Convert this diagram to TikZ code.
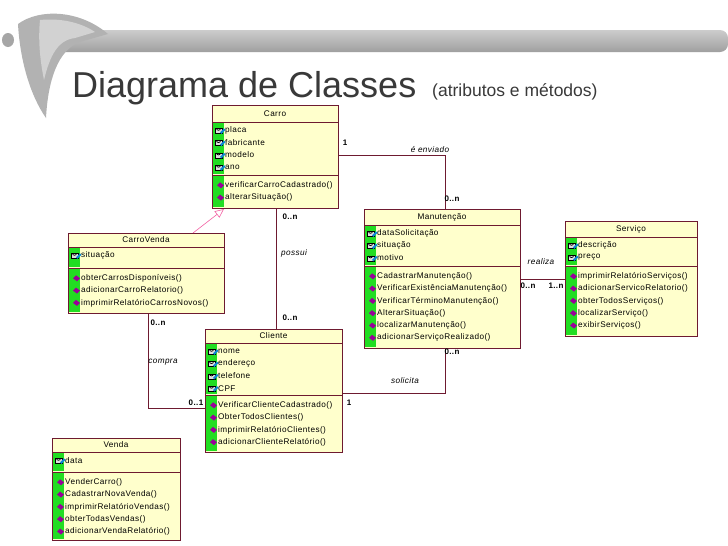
\documentclass[tikz,border=0pt]{standalone}
\usepackage{fontspec}
\setmainfont{Liberation Sans}
\newfontfamily\uml[LetterSpace=5]{Liberation Sans}
\usetikzlibrary{arrows.meta}
\definecolor{boxfill}{HTML}{FFFFCC}
\definecolor{boxline}{HTML}{6E1A30}
\definecolor{strip}{HTML}{22DD22}
\tikzset{
  clsbox/.style={draw=boxline,fill=boxfill,line width=0.9pt,anchor=north west,inner sep=0pt},
  item/.style={anchor=west,inner sep=0pt,font=\uml\fontsize{8.2}{9}\selectfont},
  ttl/.style={inner sep=0pt,font=\uml\fontsize{8.2}{9}\selectfont},
  conn/.style={draw=boxline,line width=0.8pt},
  lbl/.style={inner sep=0pt,font=\uml\fontsize{8}{9}\selectfont\bfseries},
  rl/.style={inner sep=0pt,font=\uml\fontsize{8.2}{9}\selectfont\itshape},
}
% name, x, y, w, htitle, hattr, hmeth, title, attrs ; then methods consumed by \umlmeth
\newcommand\umlcls[9]{%
  \node[clsbox,minimum width=#4pt,minimum height=#5pt+#6pt+#7pt] (#1) at (#2,#3) {};
  \draw[boxline,line width=0.9pt] (#2,#3+#5) -- ++(#4,0) (#2,#3+#5+#6) -- ++(#4,0);
  \fill[strip] (#2+1,#3+#5+1) rectangle ++(11,#6-2);
  \fill[strip] (#2+1,#3+#5+#6+1) rectangle ++(11,#7-2);
  \node[ttl] (#1-t) at (#2+#4/2,#3+#5/2) {#8};
  \foreach \a [count=\i] in {#9} {
    \node[item] at (#2+13,#3+#5+\i*12.3-4) {\a};
    \filldraw[fill=gray!25,draw=black,line width=0.4pt] (#2+3,#3+#5+\i*12.3-6) rectangle ++(7,5);
    \draw[black,line width=0.7pt] (#2+4.5,#3+#5+\i*12.3-6) arc (180:0:2);
    \fill[cyan!70!blue] (#2+8,#3+#5+\i*12.3-2) -- ++(4,-4) -- ++(1.5,1.5) -- ++(-4,4) -- cycle;
  }
  \umlmeth{#1}{#2}{#3+#5+#6}%
}
\newcommand\umlmeth[4]{%
  \foreach \m [count=\i] in {#4} {
    \node[item] at (#2+13,#3+\i*12.3-2) {\m};
    \fill[violet!80!magenta] (#2+5,#3+\i*12.3-2) -- ++(3,-3) -- ++(4,3) -- ++(-3,3) -- cycle;
  }
}
\begin{document}
\begin{tikzpicture}[x=1pt,y=-1pt]
\useasboundingbox (0,0) rectangle (728,546);
\fill[white] (0,0) rectangle (728,546);
% decoration
\shade[top color=gray!40,bottom color=gray!75,rounded corners=8pt] (40,30) rectangle (728,52);
\fill[gray!60] (18,24) .. controls (40,8) and (80,10) .. (108,34) -- (80,42) .. controls (58,50) and (48,80) .. (46,118) .. controls (30,95) and (20,60) .. (18,24) -- cycle;
\fill[gray!35] (40,20) .. controls (60,18) and (80,22) .. (95,32) -- (75,38) .. controls (58,40) and (50,55) .. (44,80) .. controls (40,60) and (38,40) .. (40,20) -- cycle;
\fill[gray!70] (8,40) ellipse (6 and 7);
\node[anchor=base west,inner sep=0pt,text=gray!45!black,font=\fontsize{36}{38}\selectfont] (title) at (72,97) {Diagrama de Classes};
\node[anchor=base west,inner sep=0pt,text=gray!45!black,font=\fontsize{17.5}{20}\selectfont] (sub) at (432,96) {(atributos e métodos)};
% classes
\umlcls{carro}{212}{105}{126}{17}{53}{33}{Carro}{placa,fabricante,modelo,ano}{verificarCarroCadastrado(),alterarSituação()}
\umlcls{cv}{68}{233}{156}{14}{21}{45}{CarroVenda}{situação}{obterCarrosDisponíveis(),adicionarCarroRelatorio(),imprimirRelatórioCarrosNovos()}
\umlcls{man}{364}{209}{156}{16}{41}{82}{Manutenção}{dataSolicitação,situação,motivo}{CadastrarManutenção(),VerificarExistênciaManutenção(),VerificarTérminoManutenção(),AlterarSituação(),localizarManutenção(),adicionarServiçoRealizado()}
\umlcls{srv}{565}{221}{132}{16}{29}{70}{Serviço}{descrição,preço}{imprimirRelatórioServiços(),adicionarServicoRelatorio(),obterTodosServiços(),localizarServiço(),exibirServiços()}
\umlcls{cli}{205}{329}{137}{14}{52}{57}{Cliente}{nome,endereço,telefone,CPF}{VerificarClienteCadastrado(),ObterTodosClientes(),imprimirRelatórioClientes(),adicionarClienteRelatório()}
\umlcls{ven}{52}{438}{128}{14}{20}{68}{Venda}{data}{VenderCarro(),CadastrarNovaVenda(),imprimirRelatórioVendas(),obterTodasVendas(),adicionarVendaRelatório()}
% connectors
\coordinate (c1) at (338,155); \coordinate (m1) at (445,209);
\draw[conn] (c1) -| (m1);
\coordinate (c2) at (276,208); \coordinate (k2) at (276,329);
\draw[conn] (c2) -- (k2);
\coordinate (g1) at (193,233); \coordinate (g2) at (224,209);
\draw[draw=magenta!50!pink,line width=0.6pt,-{Triangle[open,length=9pt,width=8pt]}] (g1) -- (g2);
\coordinate (v1) at (148,313); \coordinate (v2) at (205,408);
\draw[conn] (v1) |- (v2);
\coordinate (k3) at (342,393); \coordinate (m3) at (445,348);
\draw[conn] (k3) -| (m3);
\coordinate (m4) at (520,279); \coordinate (s4) at (565,279);
\draw[conn] (m4) -- (s4);
% labels
\node[lbl] (l1) at (345,143) {1};
\node[rl] (l2) at (430,150) {é enviado};
\node[lbl] (l3) at (452,199) {0..n};
\node[lbl] (l4) at (290,217) {0..n};
\node[rl] (l5) at (294,253) {possui};
\node[lbl] (l6) at (290,318) {0..n};
\node[lbl] (l7) at (158,323) {0..n};
\node[rl] (l8) at (163,362) {compra};
\node[lbl] (l9) at (196,403) {0..1};
\node[lbl] (l10) at (349,403) {1};
\node[rl] (l11) at (405,381) {solicita};
\node[lbl] (l12) at (452,352) {0..n};
\node[rl] (l13) at (541,262) {realiza};
\node[lbl] (l14) at (528,286) {0..n};
\node[lbl] (l15) at (556,286) {1..n};
\end{tikzpicture}
\end{document}
